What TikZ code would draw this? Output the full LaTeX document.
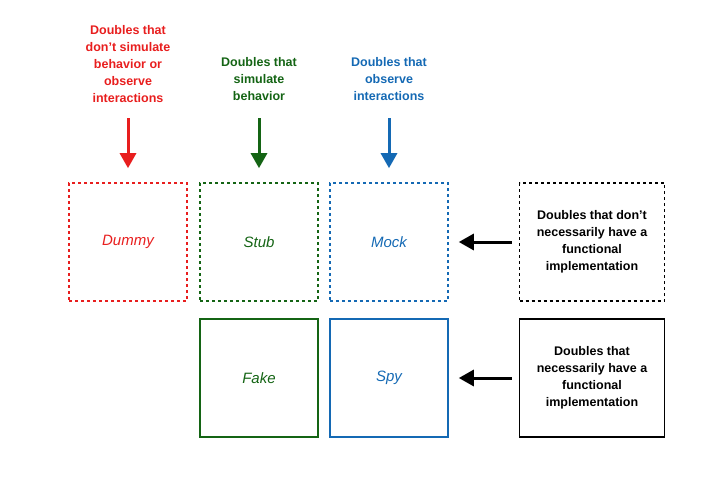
\documentclass[tikz,border=0pt]{standalone}
\usepackage{fontspec}
\setmainfont{Liberation Sans}
\usetikzlibrary{positioning, arrows.meta}
\definecolor{dred}{RGB}{232,30,30}
\definecolor{dgreen}{RGB}{20,100,20}
\definecolor{dblue}{RGB}{20,105,180}

\begin{document}
\begin{tikzpicture}[x=1pt, y=-1pt, >={Triangle[length=15pt,width=16pt]},
    box/.style={draw, line width=1.6pt, minimum width=118pt, minimum height=118pt, inner sep=0pt,
        font=\fontsize{15}{17}\selectfont\itshape},
    dbox/.style={box, dash pattern=on 3pt off 3pt},
    note/.style={align=center, font=\fontsize{12.5}{17}\selectfont\bfseries},
    ptr/.style={->, line width=3pt}]
    \useasboundingbox (0,0) rectangle (720,488);
    \node[dbox, dred, text=dred] (dummy) at (128,242) {Dummy};
    \node[dbox, dgreen, text=dgreen] (stub) at (259,242) {Stub};
    \node[dbox, dblue, text=dblue] (mock) at (389,242) {Mock};
    \node[box, dgreen, text=dgreen] (fake) at (259,378) {Fake};
    \node[box, dblue, text=dblue] (spy) at (389,378) {Spy};
    \node[dbox, minimum width=145pt, note] (nofunc) at (592,242) {Doubles that don't\\necessarily have a\\functional\\implementation};
    \node[box, minimum width=145pt, note] (func) at (592,378) {Doubles that\\necessarily have a\\functional\\implementation};

    \node[note, text=dred] (tdummy) at (128,64) {Doubles that\\don't simulate\\behavior or\\observe\\interactions};
    \node[note, text=dgreen] (tstub) at (259,79) {Doubles that\\simulate\\behavior};
    \node[note, text=dblue] (tmock) at (389,79) {Doubles that\\observe\\interactions};

    \coordinate (a1) at (128,118);
    \coordinate (a2) at (259,118);
    \coordinate (a3) at (389,118);
    \draw[ptr, dred] (a1) -- ([yshift=14pt]dummy.north);
    \draw[ptr, dgreen] (a2) -- ([yshift=14pt]stub.north);
    \draw[ptr, dblue] (a3) -- ([yshift=14pt]mock.north);
    \draw[ptr] ([xshift=-7pt]nofunc.west) -- ([xshift=10pt]mock.east);
    \draw[ptr] ([xshift=-7pt]func.west) -- ([xshift=10pt]spy.east);
\end{tikzpicture}
\end{document}
